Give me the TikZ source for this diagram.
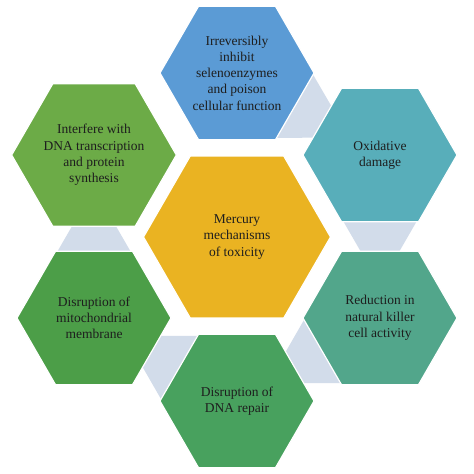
\documentclass[tikz,border=0pt]{standalone}
\usepackage{fontspec}
\setmainfont{Liberation Serif}
\usetikzlibrary{shapes.geometric,calc}
\definecolor{cBlue}{HTML}{5B9BD5}
\definecolor{cTeal}{HTML}{58AEBA}
\definecolor{cSea}{HTML}{52A68B}
\definecolor{cGreenB}{HTML}{48A15E}
\definecolor{cGreenL}{HTML}{4C9E48}
\definecolor{cGreenU}{HTML}{6CAB47}
\definecolor{cGold}{HTML}{EAB322}
\definecolor{cLink}{HTML}{D2DCEA}
\definecolor{cText}{HTML}{1E1E1E}
\tikzset{
  hexbox/.style={regular polygon, regular polygon sides=6, minimum size=154pt,
    inner sep=0pt, draw=white, line width=1.2pt, align=center, text=cText,
    font=\fontsize{13.5}{16.3}\selectfont},
  bighex/.style={hexbox, minimum size=187pt},
}
\newcommand{\linkshape}[2]{%
  \fill[cLink] ($(#1)!75pt!90:(#2)$) -- ($(#1)!75pt!-90:(#2)$)
    -- ($($(#1)!120pt!(#2)$)!5.7pt!-90:(#2)$)
    -- ($($(#1)!120pt!(#2)$)!5.7pt!90:(#2)$) -- cycle;}
\begin{document}
\begin{tikzpicture}[x=1pt,y=-1pt]
\useasboundingbox[fill=white] (0,0) rectangle (474,474);
\coordinate (cT) at (237,73);
\coordinate (cUR) at (380,155);
\coordinate (cLR) at (380,318);
\coordinate (cB) at (237,401);
\coordinate (cLL) at (94,318);
\coordinate (cUL) at (94,155);
\coordinate (cC) at (237,237);
\linkshape{cT}{cUR}
\linkshape{cUR}{cLR}
\linkshape{cLR}{cB}
\linkshape{cB}{cLL}
\linkshape{cLL}{cUL}
\node[hexbox, fill=cBlue] (top) at (cT) {Irreversibly\\inhibit\\selenoenzymes\\and poison\\cellular function};
\node[hexbox, fill=cTeal] (ur) at (cUR) {Oxidative\\damage};
\node[hexbox, fill=cSea] (lr) at (cLR) {Reduction in\\natural killer\\cell activity};
\node[hexbox, fill=cGreenB] (bot) at (cB) {Disruption of\\DNA repair};
\node[hexbox, fill=cGreenL] (ll) at (cLL) {Disruption of\\mitochondrial\\membrane};
\node[hexbox, fill=cGreenU] (ul) at (cUL) {Interfere with\\DNA transcription\\and protein\\synthesis};
\node[bighex, fill=cGold] (mid) at (cC) {Mercury\\mechanisms\\of toxicity};
\end{tikzpicture}
\end{document}
